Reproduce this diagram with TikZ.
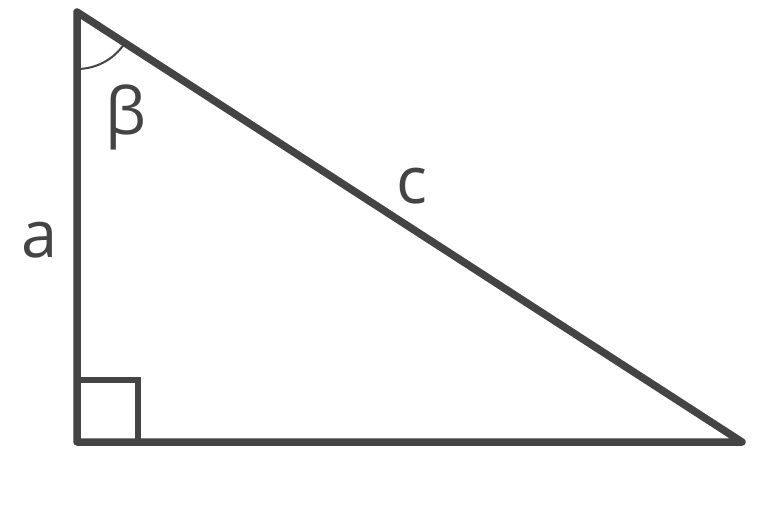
\documentclass[tikz,border=0pt]{standalone}
\usepackage{fontspec}
\setmainfont{Open Sans}
\definecolor{ink}{HTML}{444444}
\begin{document}
\begin{tikzpicture}[x=1pt,y=-1pt,
  side/.style={draw=ink,line width=7.5pt,line cap=round,line join=round},
  sq/.style={draw=ink,line width=6pt},
  thin/.style={draw=ink,line width=2pt},
  lbl/.style={text=ink,inner sep=0pt,anchor=base,font=\fontsize{65}{70}\selectfont}]
\useasboundingbox (0,0) rectangle (768,512);
\coordinate (A) at (77,12);
\coordinate (B) at (77,442);
\coordinate (C) at (742,442);
\draw[sq] (77,380) -- (138,380) -- (138,442);
\draw[thin] (77,69) arc[start angle=90,end angle=32.9,radius=57];
\draw[side] (A) -- (B) -- (C) -- cycle;
\node[lbl] (la) at (40,257) {a};
\node[lbl] (lc) at (412,203) {c};
\node[lbl] (lb) at (126,134) {β};
\end{tikzpicture}
\end{document}
